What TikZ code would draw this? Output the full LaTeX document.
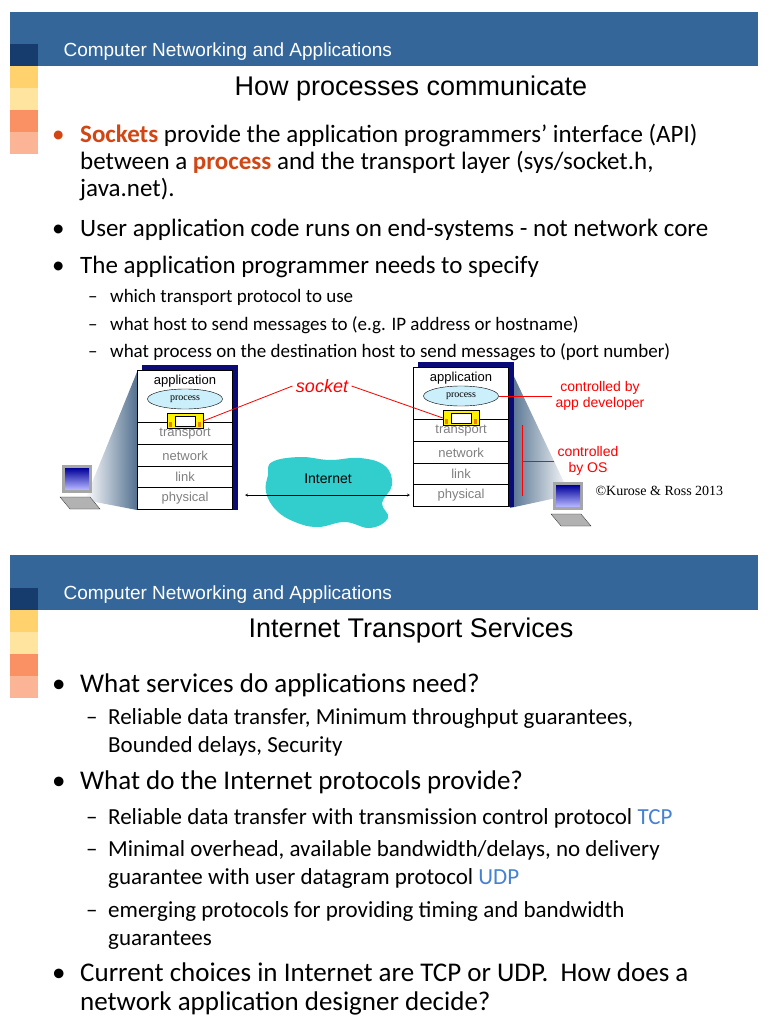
\documentclass[tikz,border=0pt]{standalone}
\usepackage{fontspec}
\setmainfont{Carlito}
\newfontfamily\arial{Liberation Sans}
\newfontfamily\tms{Liberation Serif}
\usetikzlibrary{shapes.geometric}
\definecolor{hdr}{RGB}{53,102,153}
\definecolor{sq1}{RGB}{22,60,110}
\definecolor{sq2}{RGB}{255,210,110}
\definecolor{sq3}{RGB}{255,228,160}
\definecolor{sq4}{RGB}{250,145,100}
\definecolor{sq5}{RGB}{252,180,150}
\definecolor{sockred}{RGB}{210,70,20}
\definecolor{lblue}{RGB}{70,130,210}
\definecolor{cloudc}{RGB}{50,205,205}
\definecolor{stk}{RGB}{10,10,120}
\newcommand{\bul}[1][black]{\makebox[28pt][l]{\textcolor{#1}{\raisebox{0pt}{•}}}}
\newcommand{\dsh}{\makebox[22pt][l]{–}}
\tikzset{
 hdrtxt/.style={anchor=west,text=white,font=\arial\fontsize{19}{22}\selectfont},
 title/.style={anchor=center,font=\arial\fontsize{27}{30}\selectfont},
 b1/.style={anchor=west,font=\fontsize{25}{27}\selectfont,align=left,inner sep=0pt},
 b2/.style={anchor=west,font=\fontsize{19}{20}\selectfont,inner sep=0pt},
 b1b/.style={anchor=west,font=\fontsize{27}{29}\selectfont,align=left,inner sep=0pt},
 b2b/.style={anchor=west,font=\fontsize{23}{28}\selectfont,align=left,inner sep=0pt},
 layer/.style={draw=black,line width=1.2pt,fill=white,minimum width=95pt,inner sep=0pt,text=gray,font=\arial\fontsize{13}{14}\selectfont},
 rl/.style={red,line width=0.8pt},
 rtxt/.style={text=red,font=\arial\fontsize{14}{16}\selectfont,align=center}
}
\begin{document}
\begin{tikzpicture}[x=1pt,y=-1pt]
\useasboundingbox (0,0) rectangle (768,1024);
\fill[white] (0,0) rectangle (768,1024);
% ===== slide 1 header
\fill[hdr] (10,12) rectangle (758,66);
\foreach \c [count=\i from 0] in {sq1,sq2,sq3,sq4,sq5}{\fill[\c] (10,44+22*\i) rectangle (38,66+22*\i);}
\node[hdrtxt] (h1) at (60,52) {Computer Networking and Applications};
\node[title] (t1) at (411,89) {How processes communicate};
\node[b1] (p1) at (52,162) {\bul[sockred]\textcolor{sockred}{\textbf{Sockets}} provide the application programmers’ interface (API)\\\hspace{28pt}between a \textcolor{sockred}{\textbf{process}} and the transport layer (sys/socket.h,\\\hspace{28pt}java.net).};
\node[b1] (p2) at (52,230) {\bul User application code runs on end-systems - not network core};
\node[b1] (p3) at (52,267) {\bul The application programmer needs to specify};
\node[b2] (s1) at (88,297) {\dsh which transport protocol to use};
\node[b2] (s2) at (88,325) {\dsh what host to send messages to (e.g. IP address or hostname)};
\node[b2] (s3) at (88,352) {\dsh what process on the destination host to send messages to (port number)};
% ===== diagram
\shade[left color=white,right color=hdr!60!gray] (137,372) -- (137,510) -- (85,500) -- cycle;
\shade[left color=hdr!60!gray,right color=white] (510,368) -- (510,508) -- (570,495) -- cycle;
\foreach \X/\T in {137/370,413/367}{
 \fill[stk] (\X+5,\T-5) rectangle (\X+101,\T+140);
 \node[layer,minimum height=52pt,anchor=north west] (app\X) at (\X,\T) {};
 \node[layer,minimum height=22pt,anchor=north west] (tr\X) at (\X,\T+52) {transport};
 \node[layer,minimum height=22pt,anchor=north west] (nw\X) at (\X,\T+74) {network};
 \node[layer,minimum height=21pt,anchor=north west] (lk\X) at (\X,\T+96) {link};
 \node[layer,minimum height=22pt,anchor=north west] (ph\X) at (\X,\T+117) {physical};
 \node[font=\arial\fontsize{13}{14}\selectfont] (at\X) at (\X+48,\T+11) {application};
 \node[ellipse,draw=black,fill=cyan!20,minimum width=75pt,minimum height=20pt,inner sep=0pt,font=\tms\fontsize{10}{11}\selectfont] (pr\X) at (\X+48,\T+29) {process};
 \node[draw=black,fill=yellow,minimum width=36pt,minimum height=15pt,inner sep=0pt] (so\X) at (\X+48,\T+51) {};
 \fill[white] (\X+38,\T+46) rectangle (\X+58,\T+56);
 \draw (\X+38,\T+46) rectangle (\X+58,\T+56);
 \fill[orange!70!brown] (\X+32,\T+52) rectangle (\X+35,\T+57);
 \fill[orange!70!brown] (\X+61,\T+52) rectangle (\X+64,\T+57);
}
% computers
\foreach \X/\Y in {62/465,553/482}{
 \fill[gray!70] (\X,\Y) rectangle (\X+30,\Y+28);
 \shade[top color=blue!60!black,bottom color=blue!30!white] (\X+3,\Y+3) rectangle (\X+27,\Y+24);
 \fill[gray!60] (\X-2,\Y+32) -- (\X+28,\Y+32) -- (\X+38,\Y+44) -- (\X+8,\Y+44) -- cycle;
 \draw[gray!30!black,line width=0.3pt] (\X-2,\Y+32) -- (\X+28,\Y+32) -- (\X+38,\Y+44) -- (\X+8,\Y+44) -- cycle;
}
% cloud (blob)
\fill[cloudc] plot[smooth cycle,tension=0.7] coordinates {(272,462) (300,457) (330,460) (360,458) (385,466) (392,485) (382,503) (388,518) (370,528) (345,522) (318,527) (295,522) (276,510) (266,492) (268,475)};
\node[font=\arial\fontsize{14}{16}\selectfont] (netl) at (328,479) {Internet};
\coordinate (ca) at (245,495);
\coordinate (cb) at (410,495);
\draw[<->,>=stealth] (ca) -- (cb);
% socket labels
\node[text=red,font=\arial\itshape\fontsize{18}{20}\selectfont] (sk) at (322,386) {socket};
\draw[rl] (sk.west) -- (so137.east);
\draw[rl] (sk.east) -- (so413.west);
\node[rtxt] (cd) at (600,396) {controlled by\\app developer};
\draw[rl] (pr413.east) -- (cd.west);
\node[rtxt] (co) at (588,461) {controlled\\by OS};
\coordinate (ot) at (522,425);\coordinate (ob) at (522,496);
\draw[rl] (ot) -- (ob);
\draw[rl] (522,461) -- (co.west);
\node[anchor=west,font=\tms\fontsize{14}{16}\selectfont] (cr) at (592,491) {©Kurose \& Ross 2013};
% ===== slide 2
\fill[hdr] (10,555) rectangle (758,610);
\foreach \c [count=\i from 0] in {sq1,sq2,sq3,sq4,sq5}{\fill[\c] (10,588+22*\i) rectangle (38,610+22*\i);}
\node[hdrtxt] (h2) at (60,595) {Computer Networking and Applications};
\node[title] (t2) at (411,631) {Internet Transport Services};
\node[b1b] (q1) at (52,685) {\bul What services do applications need?};
\node[b2b] (q1a) at (86,732) {\dsh Reliable data transfer, Minimum throughput guarantees,\\\hspace{22pt}Bounded delays, Security};
\node[b1b] (q2) at (52,782) {\bul What do the Internet protocols provide?};
\node[b2b] (q2a) at (86,818) {\dsh Reliable data transfer with transmission control protocol \textcolor{lblue}{TCP}};
\node[b2b] (q2b) at (86,864) {\dsh Minimal overhead, available bandwidth/delays, no delivery\\\hspace{22pt}guarantee with user datagram protocol \textcolor{lblue}{UDP}};
\node[b2b] (q2c) at (86,925) {\dsh emerging protocols for providing timing and bandwidth\\\hspace{22pt}guarantees};
\node[b1b] (q3) at (52,989) {\bul Current choices in Internet are TCP or UDP.\ \ How does a\\\hspace{28pt}network application designer decide?};
\end{tikzpicture}
\end{document}
